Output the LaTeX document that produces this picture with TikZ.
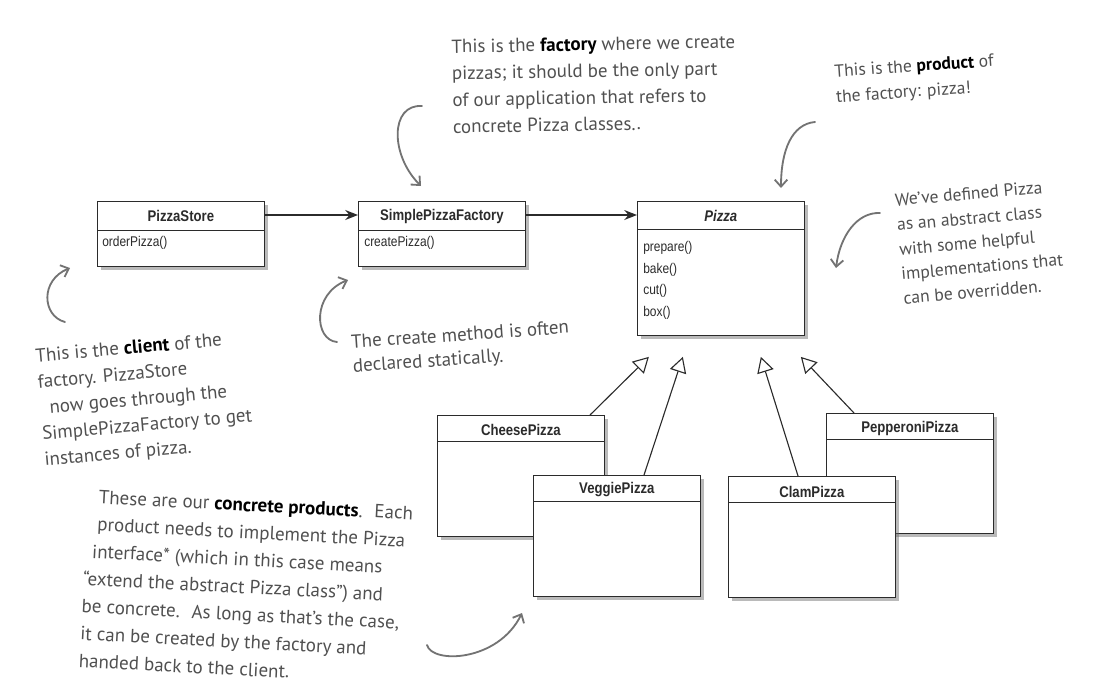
\documentclass[tikz,border=0pt]{standalone}
\usepackage{fontspec}
\setmainfont{PT Sans}
\newfontfamily\umlfont[FakeStretch=0.85]{Liberation Sans}
\usepackage{tikz}
\usetikzlibrary{calc}
\usetikzlibrary{arrows.meta,shadows}

\definecolor{ink}{HTML}{2B2B2B}
\definecolor{pencil}{HTML}{737373}
\definecolor{note}{HTML}{505050}
\newcommand{\hl}[1]{\textcolor{black}{\bfseries #1}}

\begin{document}
\begin{tikzpicture}
% styles, 1 unit = 1 pixel of the page
[
    x=0.025cm, y=-0.025cm,
    umlclass/.style={draw=ink, line width=0.6pt, fill=white, anchor=north west,
      inner sep=0pt, minimum width=4.17cm,
      drop shadow={shadow xshift=2.5pt, shadow yshift=-2.5pt, opacity=0.45, fill=black!60}},
    clsname/.style={font=\umlfont\bfseries\fontsize{11}{13}\selectfont, text=ink, inner sep=0pt},
    method/.style={font=\umlfont\fontsize{10}{12}\selectfont, text=ink, anchor=west, inner sep=0pt},
    handnote/.style={align=left, text=note, inner sep=0pt},
    hand/.style={draw=pencil, line width=1.3pt, line cap=round,
      -{Straight Barb[length=5pt,width=9pt,line width=1.3pt]}},
    assoc/.style={draw=ink, -{Stealth[length=9pt,width=7pt]}},
    inherit/.style={draw=ink, line width=0.8pt, -{Triangle[open,length=11pt,width=12pt,fill=white]}}
]
\useasboundingbox (0,0) rectangle (1095,698);

% store and factory
\node[umlclass, minimum height=1.625cm] (store) at (97,201) {};
\node[clsname] (storename) at ($(store.north)+(0,15)$) {PizzaStore};
\draw[ink, line width=0.6pt] ($(store.north west)+(0,29)$) -- ($(store.north east)+(0,29)$);
\node[method] (order) at ($(store.north west)+(5,42)$) {orderPizza()};

\node[umlclass, minimum height=1.625cm] (factory) at (358,201) {};
\node[clsname] (factoryname) at ($(factory.north)+(0,15)$) {SimplePizzaFactory};
\draw[ink, line width=0.6pt] ($(factory.north west)+(0,29)$) -- ($(factory.north east)+(0,29)$);
\node[method] (create) at ($(factory.north west)+(6,42)$) {createPizza()};

% product
\node[umlclass, minimum height=3.35cm] (pizza) at (637,201) {};
\node[clsname, font=\umlfont\bfseries\itshape\fontsize{11}{13}\selectfont] (pizzaname) at ($(pizza.north)+(0,15)$) {Pizza};
\draw[ink, line width=0.6pt] ($(pizza.north west)+(0,28)$) -- ($(pizza.north east)+(0,28)$);
\node[method] (prepare) at ($(pizza.north west)+(6,47)$) {prepare()};
\node[method] (bake) at ($(pizza.north west)+(6,69)$) {bake()};
\node[method] (cut) at ($(pizza.north west)+(6,90)$) {cut()};
\node[method] (box) at ($(pizza.north west)+(6,112)$) {box()};

\draw[assoc, line width=1.7pt] ($(store.north east)+(0,14)$) -- ($(factory.north west)+(0,14)$);
\draw[assoc, line width=1.1pt] ($(factory.north east)+(0,14)$) -- ($(pizza.north west)+(0,14)$);

% concrete pizzas
\node[umlclass, minimum height=3.025cm] (cheese) at (437,415) {};
\node[clsname] (cheesename) at ($(cheese.north)+(0,15)$) {CheesePizza};
\draw[ink, line width=0.6pt] ($(cheese.north west)+(0,26)$) -- ($(cheese.north east)+(0,26)$);

\node[umlclass, minimum height=3.025cm] (veggie) at (533,475) {};
\node[clsname] (veggiename) at ($(veggie.north)+(0,15)$) {VeggiePizza};
\draw[ink, line width=0.6pt] ($(veggie.north west)+(0,26)$) -- ($(veggie.north east)+(0,26)$);

\node[umlclass, minimum height=3.0cm] (pepperoni) at (826,413) {};
\node[clsname] (pepperoniname) at ($(pepperoni.north)+(0,15)$) {PepperoniPizza};
\draw[ink, line width=0.6pt] ($(pepperoni.north west)+(0,26)$) -- ($(pepperoni.north east)+(0,26)$);

\node[umlclass, minimum height=3.025cm] (clam) at (728,476) {};
\node[clsname] (clamname) at ($(clam.north)+(0,16)$) {ClamPizza};
\draw[ink, line width=0.6pt] ($(clam.north west)+(0,26)$) -- ($(clam.north east)+(0,26)$);

% inheritance
\coordinate (cheesetip) at ($(pizza.south)+(-72,21)$);
\coordinate (veggietip) at ($(pizza.south)+(-38,21)$);
\coordinate (clamtip) at ($(pizza.south)+(40,21)$);
\coordinate (pepperonitip) at ($(pizza.south)+(80,21)$);
\draw[inherit] ($(cheese.north west)+(153,0)$) -- (cheesetip);
\draw[inherit] ($(veggie.north west)+(111,0)$) -- (veggietip);
\draw[inherit] ($(clam.north west)+(70,0)$) -- (clamtip);
\draw[inherit] ($(pepperoni.north west)+(28,0)$) -- (pepperonitip);

% notes
\node[handnote, font=\fontsize{13.5}{19}\selectfont, rotate=1] (factorynote) at (594,84)
  {This is the \hl{factory} where we create\\
   pizzas; it should be the only part\\
   of our application that refers to\\
   concrete Pizza classes..};
\node[handnote, font=\fontsize{12.5}{18}\selectfont, rotate=4] (productnote) at (915,80)
  {This is the \hl{product} of\\
   the factory: pizza!};
\node[handnote, font=\fontsize{12.5}{17.5}\selectfont, rotate=5] (abstractnote) at (980,242)
  {We’ve defined Pizza\\
   as an abstract class\\
   with some helpful\\
   implementations that\\
   can be overridden.};
\node[handnote, font=\fontsize{13.5}{17}\selectfont, rotate=4] (staticnote) at (461,348)
  {The create method is often\\
   declared statically.};
\node[handnote, font=\fontsize{13.5}{18.5}\selectfont, rotate=5] (clientnote) at (145,400)
  {This is the \hl{client} of the\\
   factory. PizzaStore\\
   \hspace{0.5em}now goes through the\\
   SimplePizzaFactory to get\\
   instances of pizza.};
\node[handnote, font=\fontsize{13.5}{19.5}\selectfont, rotate=-3] (concretenote) at (246,587)
  {\hspace{0.6em}These are our \hl{concrete products}.~ Each\\
   \hspace{0.6em}product needs to implement the Pizza\\
   \hspace{0.4em}interface* (which in this case means\\
   “extend the abstract Pizza class”) and\\
   be concrete.~ As long as that’s the case,\\
   it can be created by the factory and\\
   handed back to the client.};

% pencil arrows
\coordinate (f0) at (422,106);
\coordinate (f1) at (421,186);
\draw[hand] (f0) .. controls (390,104) and (390,155) .. (f1);
\coordinate (s0) at (337,342);
\coordinate (s1) at (348,280);
\draw[hand] (s0) .. controls (314,340) and (312,294) .. (s1);
\coordinate (c0) at (65,322);
\coordinate (c1) at (70,268);
\draw[hand] (c0) .. controls (42,316) and (40,280) .. (c1);
\coordinate (p0) at (815,122);
\coordinate (p1) at (781,188);
\draw[hand] (p0) .. controls (792,124) and (781,150) .. (p1);
\coordinate (a0) at (880,213);
\coordinate (a1) at (836,268);
\draw[hand] (a0) .. controls (857,212) and (840,236) .. (a1);
\coordinate (k0) at (427,645);
\coordinate (k1) at (522,613);
\draw[hand] (k0) .. controls (432,664) and (498,662) .. (k1);
\end{tikzpicture}
\end{document}
